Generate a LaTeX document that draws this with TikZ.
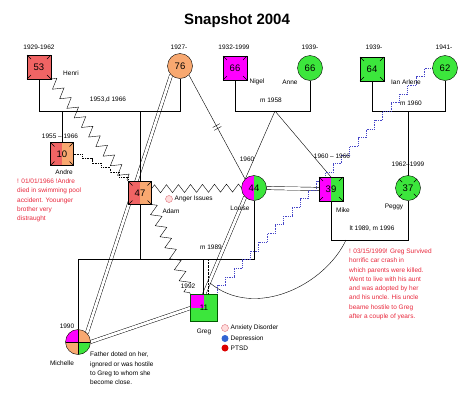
\documentclass[tikz,border=0pt]{standalone}
\usepackage{fontspec}
\setmainfont{Liberation Sans}
\usetikzlibrary{decorations.pathmorphing,decorations.markings,calc}
\definecolor{salmon}{RGB}{240,100,100}
\definecolor{peach}{RGB}{248,168,112}
\definecolor{mag}{RGB}{255,0,255}
\definecolor{gr}{RGB}{60,230,60}
\definecolor{dkgreen}{RGB}{0,90,0}
\definecolor{notered}{RGB}{232,40,60}
\definecolor{dotblue}{RGB}{70,70,200}
\definecolor{pinkfill}{RGB}{255,220,220}
\definecolor{pinkline}{RGB}{220,110,120}
\definecolor{deprblue}{RGB}{50,100,210}
\definecolor{ptsdred}{RGB}{220,0,0}
\pgfdeclarelayer{links}
\pgfsetlayers{links,main}
\begin{document}
\begin{tikzpicture}[x=1pt,y=-1pt,
  lbl/.style={font=\fontsize{6.5}{7.5}\selectfont, inner sep=0.5pt},
  num/.style={font=\fontsize{9.5}{10}\selectfont},
  male/.style={draw, rectangle, minimum size=24pt, inner sep=0pt, outer sep=0pt, num},
  female/.style={draw, circle, minimum size=25pt, inner sep=0pt, outer sep=0pt, num},
  lefthalf/.style={path picture={\fill[#1] (path picture bounding box.north west) rectangle (path picture bounding box.south);}},
  note/.style={text=notered, font=\fontsize{6.5}{9.3}\selectfont, align=left, inner sep=0pt, anchor=north west},
  blacknote/.style={font=\fontsize{6.5}{9.3}\selectfont, align=left, inner sep=0pt, anchor=north west},
  dbl/.style={double, double distance=2.8pt, line width=0.45pt},
  hostile/.style={decorate, decoration={zigzag, segment length=12pt, amplitude=5pt}},
  stair/.style={densely dotted, line width=0.6pt},
  dot/.style={circle, minimum size=7pt, inner sep=0pt},
]
\useasboundingbox (0,0) rectangle (474,408);

% title
\node[font=\fontsize{15}{17}\selectfont\bfseries] (title) at (237,21) {Snapshot 2004};

% persons
\node[male, fill=salmon] (henri) at (39,67) {53};
\node[female, fill=peach] (g76) at (180,66) {76};
\node[male, fill=mag] (nigel) at (235,68) {66};
\node[female, fill=gr] (anne) at (310,68) {66};
\node[male, fill=gr] (ian) at (372,69) {64};
\node[female, fill=gr] (arlene) at (445,68) {62};
\node[male, minimum size=23pt, fill=peach, lefthalf=salmon] (andre) at (62,154) {10};
\node[male, minimum size=23pt, fill=peach, lefthalf=salmon] (adam) at (140,193) {47};
\node[female, fill=gr, lefthalf=mag] (louise) at (254,188) {44};
\node[male, fill=gr, lefthalf=mag] (mike) at (331,189) {39};
\node[female, fill=gr] (peggy) at (408,188) {37};
\node[female, fill=peach, path picture={
   \fill[mag] (path picture bounding box.north west) rectangle (path picture bounding box.center);
   \fill[gr] (path picture bounding box.center) rectangle (path picture bounding box.south east);
   \draw (path picture bounding box.north) -- (path picture bounding box.south)
         (path picture bounding box.west) -- (path picture bounding box.east);}] (michelle) at (78,342) {};
\node[male, minimum size=27pt, fill=gr, draw=dkgreen, line width=1.4pt, font=\fontsize{8}{9}\selectfont, path picture={
   \fill[mag] (path picture bounding box.north west) rectangle (path picture bounding box.center);}] (greg) at (204,308) {\raisebox{-2pt}{11}};

% deceased corner marks
\foreach \n in {henri,nigel,ian,andre,adam,mike} {
  \draw (\n.north west) -- ++(4,4);
  \draw (\n.north east) -- ++(-4,4);
  \draw (\n.south west) -- ++(4,-4);
  \draw (\n.south east) -- ++(-4,-4);
}
\draw (peggy.north west) -- ++(3,3);
\draw (peggy.north east) -- ++(-3,3);
\draw (peggy.south west) -- ++(3,-3);
\draw (peggy.south east) -- ++(-3,-3);

% labels
\node[lbl] (l1) at (39,47) {1929-1962};
\node[lbl] (l2) at (71,73) {Henri};
\node[lbl, fill=white] (l3) at (108,100) {1953,d 1966};
\node[lbl] (l4) at (179,47) {1927-};
\node[lbl] (l5) at (234,47) {1932-1999};
\node[lbl] (l6) at (257,82) {Nigel};
\node[lbl] (l7) at (290,82) {Anne};
\node[lbl] (l8) at (310,47) {1939-};
\node[lbl] (l9) at (271,100) {m 1958};
\node[lbl] (l10) at (374,47) {1939-};
\node[lbl] (l11) at (444,47) {1941-};
\node[lbl] (l12) at (406,82) {Ian Arlene};
\node[lbl] (l13) at (411,103) {m 1960};
\node[lbl] (l14) at (60,136) {1955 -- 1966};
\node[lbl] (l15) at (64,172) {Andre};
\node[lbl] (l16) at (247,159) {1960};
\node[lbl] (l17) at (240,208) {Louise};
\node[lbl] (l18) at (332,156) {1960 -- 1966};
\node[lbl] (l19) at (343,210) {Mike};
\node[lbl] (l20) at (408,164) {1962--1999};
\node[lbl] (l21) at (394,207) {Peggy};
\node[lbl] (l22) at (372,229) {lt 1989, m 1996};
\node[lbl] (l23) at (171,211) {Adam};
\node[dot, draw=pinkline, fill=pinkfill] (angerdot) at (169,199) {};
\node[lbl, anchor=west] (anger) at (174,199) {Anger Issues};
\node[lbl] (l24) at (211,247) {m 1989};
\node[lbl, fill=white] (l25) at (188,286) {1992};
\node[lbl] (l26) at (204,332) {Greg};
\node[lbl] (l27) at (67,326) {1990};
\node[lbl] (l28) at (62,363) {Michelle};
\node[blacknote] (mnote) at (90,352) {Father doted on her,\\ignored or was hostile\\to Greg to whom she\\become close.};
\node[note] (anote) at (17,178.5) {! 01/01/1966 !Andre\\died in swimming pool\\accident. Yoounger\\brother very\\distraught};
\node[note] (gnote) at (349,248.5) {! 03/15/1999! Greg Survived\\horrific car crash in\\which parents were killed.\\Went to live with his aunt\\and was adopted by her\\and his uncle. His uncle\\beame hostile to Greg\\after a couple of years.};

% legend
\node[dot, draw=pinkline, fill=pinkfill] (lgd1) at (225,328) {};
\node[lbl, anchor=west] (lgt1) at (230,328) {Anxiety Disorder};
\node[dot, fill=deprblue] (lgd2) at (225,338.5) {};
\node[lbl, anchor=west] (lgt2) at (230,338.5) {Depression};
\node[dot, fill=ptsdred] (lgd3) at (225,348) {};
\node[lbl, anchor=west] (lgt3) at (230,348) {PTSD};

% connectors
\begin{pgfonlayer}{links}
\coordinate (m1) at (110,111);
\coordinate (m2) at (275,111);
\coordinate (m3) at (408,111);
\coordinate (m4) at (203,259);
\coordinate (m4d) at (208,259);
\coordinate (m5) at (346,240);
\coordinate (gregtop) at (210,283);

% emotional double lines
\draw[dbl] (g76.south west) -- (michelle.north east);
\draw[dbl] (louise.east) -- (mike.west);
\draw[dbl] (louise.south west) -- (greg.north);
\draw[dbl] (michelle.east) -- (greg.west);

% marriages
\draw (henri.center) -- (henri.center |- m1) -- (g76.south |- m1) -- (g76.south);
\draw (andre.north) -- (andre.north |- m1);
\draw (adam.north) -- (adam.north |- m1);
\draw (nigel.south) -- (nigel.south |- m2) -- (anne.south |- m2) -- (anne.south);
\draw (m2) -- (louise.north west);
\draw (m2) -- (mike.north);
\draw (ian.south) -- (ian.south |- m3) -- (arlene.south |- m3) -- (arlene.south);
\draw (m3) -- (peggy.north);
\draw (adam.south) -- (adam.south |- m4) -- (louise.south |- m4) -- (louise.south);
\draw (michelle.north) -- (michelle.north |- m4) -- (adam.south |- m4);
\draw (m4) -- (m4 |- greg.north);
\draw[densely dotted] (m4d) -- (m4d |- greg.north);
\draw (mike.south) -- (mike.south |- m5) -- (peggy.south |- m5) -- (peggy.south);
\draw (m5) .. controls (325,285) and (255,320) .. (gregtop);

% cutoff
\draw[decoration={markings, mark=at position 0.5 with {\draw (-1.6,-4) -- (-1.6,4) (1.6,-4) -- (1.6,4);}}, postaction=decorate] (g76.south east) -- (louise.north west);

% hostility
\draw[hostile] (henri.south east) -- (adam.north west);
\draw[hostile, decoration={amplitude=4pt}] (adam.20) -- (louise.west);
\draw[hostile] (adam.south east) -- (greg.north west);

% dotted staircases
\draw[stair] (andre.east) \foreach \i in {1,...,6} { -| ($(andre.east)!\i/6!(adam.north west)$) };
\draw[stair, dotblue, line width=0.8pt] (arlene.west) \foreach \i in {1,...,26} { -| ($(arlene.west)!\i/26!(greg.north east)$) };
\end{pgfonlayer}
\end{tikzpicture}
\end{document}
